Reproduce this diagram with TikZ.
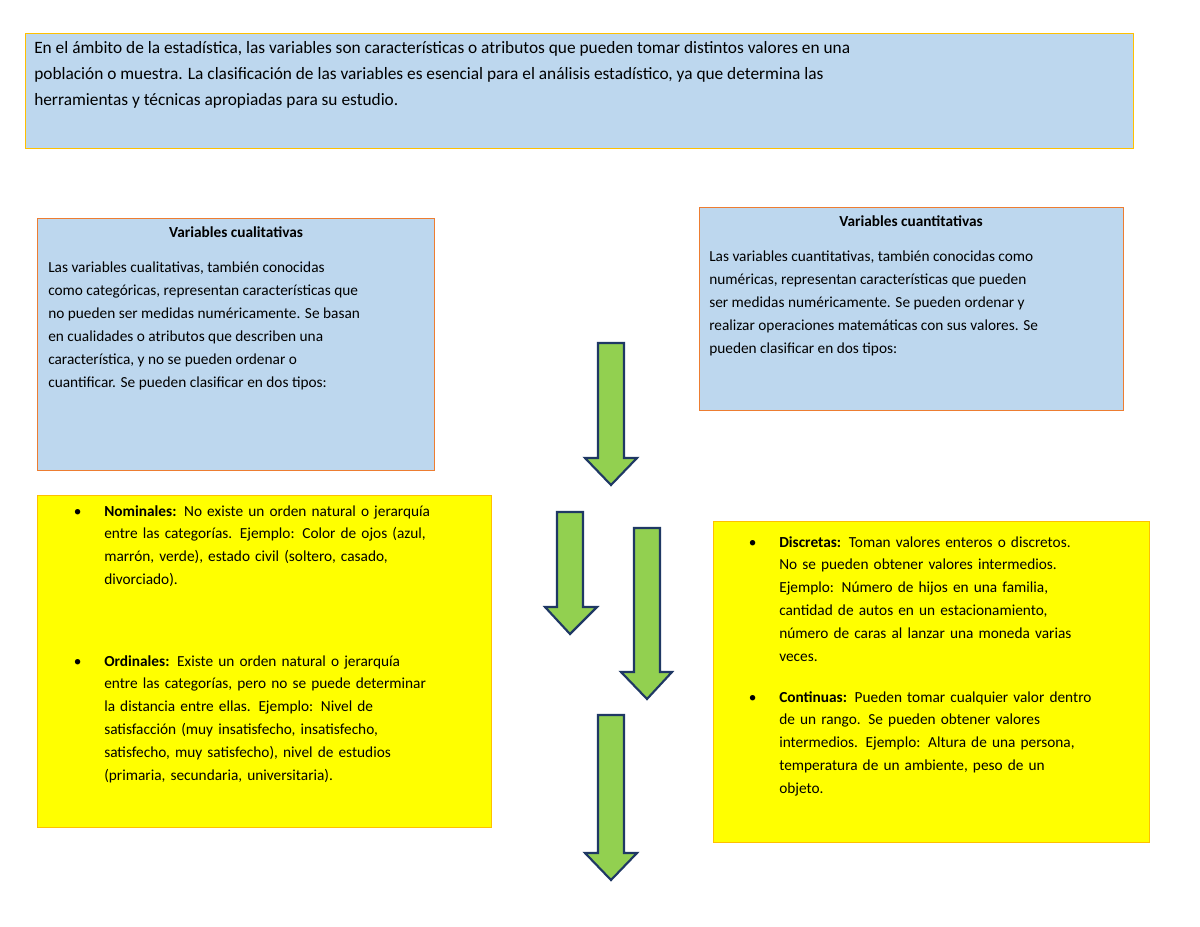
\documentclass[tikz,border=0pt]{standalone}
\usepackage{fontspec}
\setmainfont{Carlito}
\definecolor{lb}{HTML}{BDD7EE}
\definecolor{gold}{HTML}{FFC000}
\definecolor{org}{HTML}{ED7D31}
\definecolor{yel}{HTML}{FFFF00}
\definecolor{grn}{HTML}{92D050}
\definecolor{nav}{HTML}{1F3864}
\begin{document}
\begin{tikzpicture}[x=0.75pt,y=-0.75pt,
  txt/.style={anchor=north west,inner sep=0pt,align=left,font=\fontsize{11.5}{17.2}\selectfont},
  bul/.style={txt,text width=330pt},
  arr/.style={fill=grn,draw=nav,line width=1.6pt,line join=miter}]
\useasboundingbox (0,0) rectangle (1200,927);
\fill[white] (0,0) rectangle (1200,927);
\draw[fill=lb,draw=gold] (25,33) rectangle (1133,148);
\node[txt,font=\fontsize{13}{19.5}\selectfont] (t) at (34,41) {En el ámbito de la estadística, las variables son características o atributos que pueden tomar distintos valores en una\\población o muestra. La clasificación de las variables es esencial para el análisis estadístico, ya que determina las\\herramientas y técnicas apropiadas para su estudio.};
\draw[fill=lb,draw=org] (37,218) rectangle (434,470);
\node[txt,font=\fontsize{11.5}{17.2}\bfseries] (lh) at (236,226) [anchor=north] {Variables cualitativas};
\node[txt] (lt) at (48,262) {Las variables cualitativas, también conocidas\\como categóricas, representan características que\\no pueden ser medidas numéricamente. Se basan\\en cualidades o atributos que describen una\\característica, y no se pueden ordenar o\\cuantificar. Se pueden clasificar en dos tipos:};
\draw[fill=lb,draw=org] (699,207) rectangle (1123,410);
\node[txt,font=\fontsize{11.5}{17.2}\bfseries] (rh) at (911,215) [anchor=north] {Variables cuantitativas};
\node[txt] (rt) at (709,251) {Las variables cuantitativas, también conocidas como\\numéricas, representan características que pueden\\ser medidas numéricamente. Se pueden ordenar y\\realizar operaciones matemáticas con sus valores. Se\\pueden clasificar en dos tipos:};
\draw[fill=yel,draw=gold] (37,495) rectangle (491,827);
\node[bul] (b1) at (104,505) {\llap{\textbullet\hspace{17pt}}\textbf{Nominales:} No existe un orden natural o jerarquía\\entre las categorías. Ejemplo: Color de ojos (azul,\\marrón, verde), estado civil (soltero, casado,\\divorciado).};
\node[bul] (b2) at (104,655) {\llap{\textbullet\hspace{17pt}}\textbf{Ordinales:} Existe un orden natural o jerarquía\\entre las categorías, pero no se puede determinar\\la distancia entre ellas. Ejemplo: Nivel de\\satisfacción (muy insatisfecho, insatisfecho,\\satisfecho, muy satisfecho), nivel de estudios\\(primaria, secundaria, universitaria).};
\draw[fill=yel,draw=gold] (713,521) rectangle (1149,842);
\node[bul] (b3) at (779,536) {\llap{\textbullet\hspace{17pt}}\textbf{Discretas:} Toman valores enteros o discretos.\\No se pueden obtener valores intermedios.\\Ejemplo: Número de hijos en una familia,\\cantidad de autos en un estacionamiento,\\número de caras al lanzar una moneda varias\\veces.};
\node[bul] (b4) at (779,691) {\llap{\textbullet\hspace{17pt}}\textbf{Continuas:} Pueden tomar cualquier valor dentro\\de un rango. Se pueden obtener valores\\intermedios. Ejemplo: Altura de una persona,\\temperatura de un ambiente, peso de un\\objeto.};
\draw[arr] (598,343)--(624,343)--(624,458)--(637,458)--(611,485)--(585,458)--(598,458)--cycle;
\draw[arr] (557,512)--(583,512)--(583,607)--(597,607)--(570,634)--(545,607)--(557,607)--cycle;
\draw[arr] (634,528)--(660,528)--(660,672)--(672,672)--(647,699)--(621,672)--(634,672)--cycle;
\draw[arr] (598,715)--(624,715)--(624,853)--(637,853)--(611,880)--(585,853)--(598,853)--cycle;
\end{tikzpicture}
\end{document}
